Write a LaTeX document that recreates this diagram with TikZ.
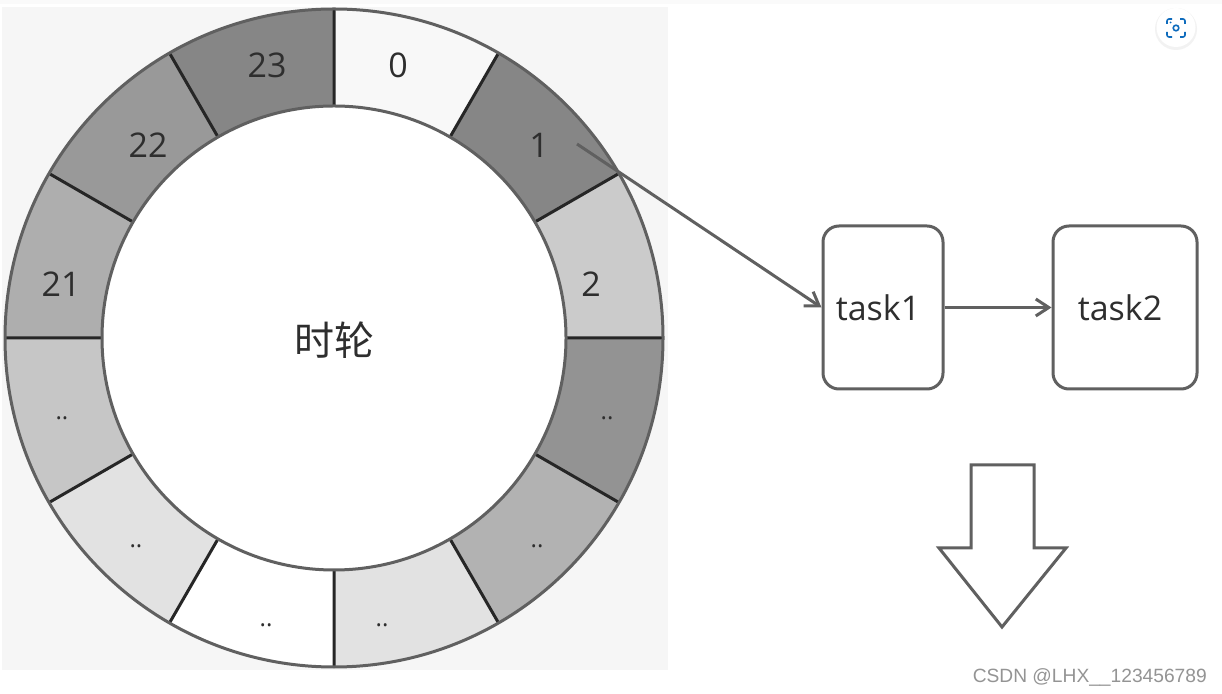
\documentclass[tikz,border=0pt]{standalone}
\usepackage{fontspec}
\setmainfont{Open Sans}
\newfontfamily\cjkfont{Noto Sans CJK SC}
\newfontfamily\markfont{Liberation Sans}
\usetikzlibrary{arrows.meta,positioning}
\definecolor{slotA}{HTML}{F8F8F8}
\definecolor{slotB}{HTML}{868686}
\definecolor{slotC}{HTML}{CBCBCB}
\definecolor{slotD}{HTML}{939393}
\definecolor{slotE}{HTML}{B2B2B2}
\definecolor{slotF}{HTML}{E2E2E2}
\definecolor{slotG}{HTML}{C6C6C6}
\definecolor{slotH}{HTML}{AEAEAE}
\definecolor{slotI}{HTML}{999999}
\definecolor{rimgray}{HTML}{606060}
\definecolor{inkgray}{HTML}{2E2E2E}
\definecolor{panelgray}{HTML}{F6F6F6}
\definecolor{iconblue}{HTML}{0F6CBD}
% one coloured slot of the ring: start angle, colour
\newcommand{\ringslot}[2]{\fill[#2] (#1:329) arc[start angle=#1,delta angle=-30,radius=329pt]
  -- ({#1-30}:232) arc[start angle={#1-30},delta angle=30,radius=232pt] -- cycle;}

\begin{document}
\begin{tikzpicture}[
    x=1pt,y=1pt,
    rim/.style={draw=rimgray,line width=3pt},
    spoke/.style={draw=black!85,line width=3pt},
    slotlabel/.style={text=inkgray,anchor=base,inner sep=0pt,font=\fontsize{34}{34}\selectfont},
    dotlabel/.style={text=inkgray,anchor=base,inner sep=0pt,font=\fontsize{24}{24}\selectfont},
    taskbox/.style={
        draw=rimgray,
        line width=3pt,
        rounded corners=16pt,
        text=inkgray,
        inner sep=0pt,
        font=\fontsize{34}{34}\selectfont},
    link/.style={draw=rimgray,line width=3pt,-{Straight Barb[length=13pt,width=17pt,line width=3pt]}},
  ]
  \useasboundingbox (0,0) rectangle (1222,693);
  \fill[white] (0,0) rectangle (1222,693);
  \fill[black!2] (0,689) rectangle (1222,693);
  \fill[panelgray] (2,23) rectangle (668,686);

  % Ring
  \begin{scope}[shift={(334,355)}]
    \ringslot{90}{slotA}
    \ringslot{60}{slotB}
    \ringslot{30}{slotC}
    \ringslot{0}{slotD}
    \ringslot{-30}{slotE}
    \ringslot{-60}{slotF}
    \ringslot{-90}{white}
    \ringslot{-120}{slotF}
    \ringslot{-150}{slotG}
    \ringslot{-180}{slotH}
    \ringslot{-210}{slotI}
    \ringslot{-240}{slotB}
    \draw[spoke] (90:232) -- (90:329) (60:232) -- (60:329) (30:232) -- (30:329)
      (0:232) -- (0:329) (-30:232) -- (-30:329) (-60:232) -- (-60:329)
      (-90:232) -- (-90:329) (-120:232) -- (-120:329) (-150:232) -- (-150:329)
      (180:232) -- (180:329) (150:232) -- (150:329) (120:232) -- (120:329);
    \draw[rim] (0,0) circle[radius=329pt];
    \draw[rim,fill=white] (0,0) circle[radius=232pt];
    \node[inner sep=0pt,text=inkgray,font=\cjkfont\fontsize{40}{40}\selectfont] (wheel) at (0,-2) {时轮};
  \end{scope}

  % Slots
  \node[slotlabel] (slot0) at (398,615) {0};
  \node[slotlabel] (slot1) at (539,535) {1};
  \node[slotlabel] (slot2) at (591,396) {2};
  \node[dotlabel] (slot3) at (607,273) {..};
  \node[dotlabel] (slot4) at (537,145) {..};
  \node[dotlabel] (slot5) at (382,67) {..};
  \node[dotlabel] (slot6) at (266,67) {..};
  \node[dotlabel] (slot7) at (136,145) {..};
  \node[dotlabel] (slot8) at (62,273) {..};
  \node[slotlabel] (slot9) at (61,396) {21};
  \node[slotlabel] (slot10) at (148,535) {22};
  \node[slotlabel] (slot11) at (267,615) {23};
  \coordinate (slothook) at (577,549);

  % Tasks
  \node[taskbox,minimum width=120pt,minimum height=163pt] (task1) at (883,385.5) {\raisebox{-2pt}{task1}\kern10pt};
  \node[taskbox,minimum width=144pt,minimum height=163pt,right=107pt of task1] (task2) {\raisebox{-2pt}{task2}\kern10pt};
  \draw[link] (slothook) -- (task1.west);
  \draw[link] (task1.east) -- (task2.west);

  % Down arrow
  \draw[rimgray,line width=3pt,fill=white] (971,228) -- (1034,228) -- (1034,145) -- (1066,145)
    -- (1002,66) -- (939,145) -- (971,145) -- cycle;

  % Scan button
  \fill[black!5] (1176,664) circle[radius=21pt];
  \fill[white] (1176,665.5) circle[radius=19.5pt];
  \begin{scope}[iconblue,line width=1.6pt,rounded corners=2pt]
    \draw (1167,669) -- (1167,674) -- (1172,674);
    \draw (1180,674) -- (1185,674) -- (1185,669);
    \draw (1185,661) -- (1185,656) -- (1180,656);
    \draw (1172,656) -- (1167,656) -- (1167,661);
    \draw (1176,665) circle[radius=2.8pt];
    \fill (1170.5,670.5) circle[radius=1pt];
  \end{scope}

  \node[anchor=base east,inner sep=0pt,text=black!42,font=\markfont\fontsize{19.2}{19.2}\selectfont] (mark) at (1207,11) {CSDN @LHX\_\_123456789};
\end{tikzpicture}
\end{document}
